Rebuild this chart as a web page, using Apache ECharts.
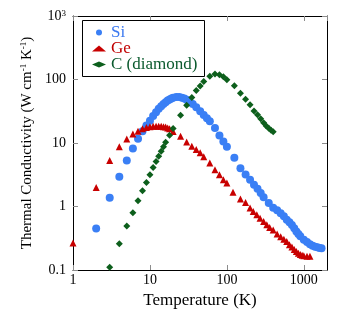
<!DOCTYPE html>
<html><head><meta charset="utf-8">
<script src="https://cdn.jsdelivr.net/npm/echarts@6/dist/echarts.min.js"></script>
<style>html,body{margin:0;padding:0;background:#fff}#c{width:353px;height:332px}</style>
</head><body><div id="c"></div><script>
// Silicon
const siT = [2,3,4,5,6,7,8,9,10,11,12,13,14,15,16,17,18,19,20,22,24,26,28,30,33,36,40,45,50,55,60,70,80,90,100,125,150,175,200,225,250,275,300,350,400,450,500,550,600,650,700,750,800,850,900,1000,1100,1200,1300,1400,1500,1600,1700];
const siK = [0.45,1.37,2.95,5.3,8.2,11.7,15.3,18.8,22.5,26.5,30.5,34.5,38,41,44,46.5,48.5,50,51.5,53,53,51.5,50,48,44.5,41,36.5,31.5,27.5,24.5,22,17.3,13.1,10.6,8.7,5.85,4.0,3.2,2.64,2.2,1.9,1.63,1.4,1.14,0.96,0.87,0.78,0.70,0.62,0.565,0.51,0.455,0.405,0.37,0.34,0.30,0.275,0.255,0.24,0.233,0.228,0.223,0.22];
// Germanium
const geT = [1,2,3,4,5,6,7,8,9,10,11,12,13,14,15,16,17,18,20,25,30,35,40,45,50,60,70,80,90,100,120,150,175,200,220,245,270,300,330,360,400,450,500,550,600,650,700,750,800,850,900,950,1000,1100,1200];
const geK = [0.265,2.0,5.3,8.7,11.6,13.9,15.3,16.7,17.5,18,18.3,18.4,18.4,18.3,18.1,17.8,17.3,16.7,15.2,12.8,10.4,8.9,7.9,7.0,6.05,4.85,3.8,3.15,2.64,2.34,1.68,1.31,1.16,0.944,0.834,0.739,0.656,0.58,0.514,0.466,0.428,0.37,0.335,0.305,0.28,0.25,0.23,0.21,0.195,0.183,0.176,0.17,0.167,0.165,0.165];
// Diamond
const cT = [3,4,5,6,7,8,9,10,11,12,13,14,15,16,18,20,25,30,35,40,45,50,60,70,80,90,100,125,150,175,200,225,250,275,300,325,350,375,400];
const cK = [0.11,0.26,0.495,0.80,1.23,1.77,2.39,3.17,4.1,5.1,6.2,7.4,8.7,10.3,13.2,16.9,27.4,39.4,52,67,79,93,113,122,119,110,99,80,61,49,40,32,27.8,24,20.8,18.6,17,15.9,15];

const seriesNames = ['Si','Ge','C (diamond)'];
const xTickLabels = {0:'1',1:'10',2:'100',3:'1000'};
const yTickLabels = {'-1':'0.1',0:'1',1:'10',2:'100',3:'10{sup|3}'};

const FONT = '"Liberation Serif","Times New Roman",serif';
const pair = (a,b)=>a.map((v,i)=>[v,b[i]]);
const decLabel = (map)=> (v)=>{
  const e = Math.log10(v); const r = Math.round(e);
  if (Math.abs(e-r) > 0.01) return '';
  return map[r] !== undefined ? map[r] : '';
};
const tickStyle = {show:true, inside:true, length:5, lineStyle:{color:'#8c8c8c', width:1}};
const lineStyle = {color:'#000', width:1};

const chart = echarts.init(document.getElementById('c'), null, {renderer:'canvas'});
chart.setOption({
  animation:false,
  backgroundColor:'#fff',
  grid:{left:73, right:26, top:16, bottom:62, containLabel:false},
  xAxis:[
    {type:'log', logBase:10, min:1, max:2000, position:'bottom',
     axisLine:{show:true, onZero:false, lineStyle}, axisTick:tickStyle,
     splitLine:{show:false}, minorTick:{show:false},
     axisLabel:{formatter:decLabel(xTickLabels), fontFamily:FONT, fontSize:14, color:'#000', margin:3, showMaxLabel:false},
     name:'Temperature (K)', nameLocation:'middle', nameGap:20,
     nameTextStyle:{fontFamily:FONT, fontSize:17, color:'#000'}},
    {type:'log', logBase:10, min:1, max:2000, position:'top',
     axisLine:{show:true, onZero:false, lineStyle}, axisTick:tickStyle,
     splitLine:{show:false}, axisLabel:{show:false}}
  ],
  yAxis:[
    {type:'log', logBase:10, min:0.1, max:1000, position:'left',
     axisLine:{show:true, onZero:false, lineStyle}, axisTick:tickStyle,
     splitLine:{show:false},
     axisLabel:{formatter:decLabel(yTickLabels), fontFamily:FONT, fontSize:14, color:'#000', margin:7,
       rich:{sup:{fontFamily:FONT, fontSize:9, color:'#000', verticalAlign:'top'}}},
     name:'Thermal Conductivity (W cm{sup|-1} K{sup|-1})', nameLocation:'middle', nameGap:36,
     nameTextStyle:{fontFamily:FONT, fontSize:15, color:'#000',
       rich:{sup:{fontFamily:FONT, fontSize:9, color:'#000', verticalAlign:'top'}}}},
    {type:'log', logBase:10, min:0.1, max:1000, position:'right',
     axisLine:{show:true, onZero:false, lineStyle}, axisTick:tickStyle,
     splitLine:{show:false}, axisLabel:{show:false}}
  ],
  legend:{orient:'vertical', left:92, top:24, padding:0, itemWidth:14, itemHeight:6, itemGap:-1,
    textStyle:{fontFamily:FONT, fontSize:17},
    data:[
      {name:seriesNames[0], textStyle:{color:'#3a78f0'}},
      {name:seriesNames[1], textStyle:{color:'#c00000'}},
      {name:seriesNames[2], textStyle:{color:'#0b5a2e'}}
    ]},
  graphic:[{type:'rect', shape:{x:82.5, y:20.5, width:122, height:56},
    style:{fill:'none', stroke:'#000', lineWidth:1}, z:100}],
  series:[
    {name:seriesNames[0], type:'scatter', symbol:'circle', symbolSize:8,
     itemStyle:{color:'#3a7ff5', opacity:1}, data:pair(siT,siK), z:2},
    {name:seriesNames[1], type:'scatter', symbol:'triangle', symbolSize:7,
     itemStyle:{color:'#c80000', opacity:1}, data:pair(geT,geK), z:3},
    {name:seriesNames[2], type:'scatter', symbol:'diamond', symbolSize:7,
     itemStyle:{color:'#0d5f1c', opacity:1}, data:pair(cT,cK), z:4}
  ]
});
</script></body></html>
